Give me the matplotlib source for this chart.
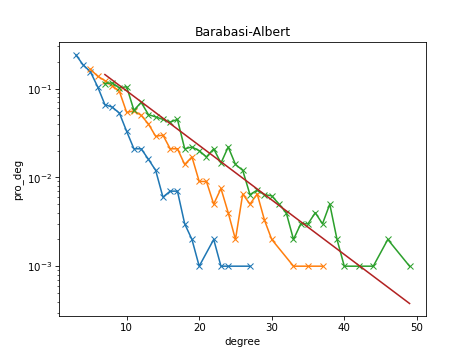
import matplotlib
matplotlib.use("Agg")
import matplotlib.pyplot as plt

# degree distributions
deg_a = [3, 4, 5, 6, 7, 8, 9, 10, 11, 12, 13, 14, 15, 16, 17, 18, 19, 20, 22, 23, 24, 27]
pro_a = [0.24, 0.185, 0.155, 0.105, 0.066, 0.062, 0.053, 0.033, 0.021, 0.021, 0.016,
         0.012, 0.006, 0.007, 0.007, 0.003, 0.002, 0.001, 0.002, 0.001, 0.001, 0.001]

deg_b = list(range(5, 31)) + [33, 35, 37]
pro_b = [0.165, 0.138, 0.123, 0.108, 0.093, 0.054, 0.056, 0.050, 0.040, 0.029, 0.030,
         0.021, 0.021, 0.014, 0.017, 0.009, 0.009, 0.005, 0.0075, 0.004, 0.002, 0.0065,
         0.005, 0.0065, 0.0033, 0.002, 0.001, 0.001, 0.001]

deg_c = list(range(7, 41)) + [42, 44, 46, 49]
pro_c = [0.114, 0.116, 0.102, 0.105, 0.057, 0.070, 0.051, 0.048, 0.045, 0.042, 0.045,
         0.021, 0.022, 0.020, 0.017, 0.021, 0.0145, 0.022, 0.014, 0.012, 0.0064, 0.0072,
         0.0064, 0.0062, 0.005, 0.004, 0.002, 0.003, 0.003, 0.004, 0.003, 0.005, 0.002,
         0.001, 0.001, 0.001, 0.002, 0.001]

# fitted line
fit_x = [7, 49]
fit_y = [0.144, 0.00038]

fig = plt.figure(figsize=(6.4, 4.8), dpi=74)
plt.plot(deg_a, pro_a, marker='x')
plt.plot(deg_b, pro_b, marker='x')
plt.plot(deg_c, pro_c, marker='x')
plt.plot(fit_x, fit_y, color='firebrick')
plt.yscale('log')
plt.xlabel('degree')
plt.ylabel('pro_deg')
plt.title('Barabasi-Albert')
plt.savefig('out.png', dpi=74)
